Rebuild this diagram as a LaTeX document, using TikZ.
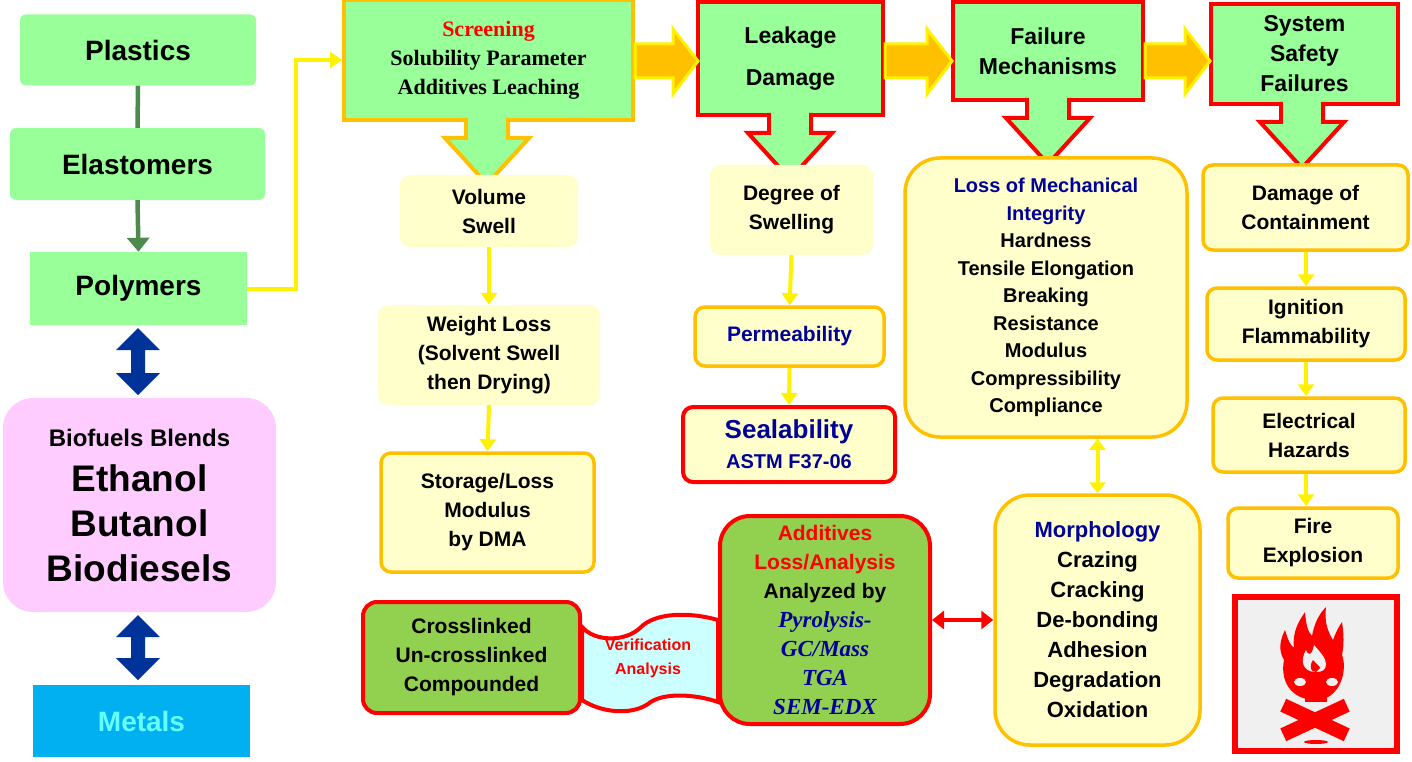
\documentclass[tikz,border=0pt]{standalone}
\usepackage{fontspec}
\setmainfont{Liberation Sans}
\newfontfamily\serifb{Liberation Serif}
\usetikzlibrary{arrows.meta}
\definecolor{lg}{HTML}{99FF99}
\definecolor{ly}{HTML}{FFFFCC}
\definecolor{org}{HTML}{FFC000}
\definecolor{dgr}{HTML}{92D050}
\definecolor{dbl}{HTML}{000099}
\definecolor{pink}{HTML}{FFCCFF}
\definecolor{sky}{HTML}{00B0F0}
\definecolor{mtl}{HTML}{66FFFF}
\definecolor{cy}{HTML}{CCFFFF}
\definecolor{arrg}{HTML}{4E8A4E}
\definecolor{bl}{HTML}{003399}
\tikzset{
 every node/.style={font=\bfseries, align=center, inner sep=0pt},
 gbox/.style={fill=lg, rounded corners=6pt, font=\fontsize{28}{32}\selectfont\bfseries},
 topbox/.style={fill=lg, draw=red, line width=4pt, font=\fontsize{23}{30}\selectfont\bfseries},
 ybox/.style={fill=ly, rounded corners=10pt, font=\fontsize{21}{29}\selectfont\bfseries},
 obox/.style={ybox, draw=org, line width=3.5pt},
 rbox/.style={draw=red, line width=4pt, rounded corners=14pt},
 yarr/.style={draw=yellow, line width=4pt, -{Triangle[length=12pt,width=16pt]}},
 blockarr/.style={fill=org, draw=yellow, line width=3pt},
}
\begin{document}
\begin{tikzpicture}[x=1pt,y=-1pt]
\useasboundingbox (0,0) rectangle (1412,762);
\fill[white] (0,0) rectangle (1412,762);
% left column
\node[gbox, minimum width=236pt, minimum height=71pt] (plastics) at (138,50) {Plastics};
\node[gbox, minimum width=255pt, minimum height=72pt] (elast) at (137.5,164) {Elastomers};
\node[fill=lg, minimum width=217pt, minimum height=73pt, font=\fontsize{28}{32}\selectfont\bfseries] (poly) at (138.5,288.5) {Polymers};
\node[fill=pink, rounded corners=30pt, minimum width=273pt, minimum height=214pt, font=\fontsize{37}{45}\selectfont\bfseries] (bio) at (139.5,505)
 {{\fontsize{24}{30}\selectfont Biofuels Blends}\\Ethanol\\Butanol\\Biodiesels};
\node[fill=sky, minimum width=217pt, minimum height=72pt, text=mtl, font=\fontsize{28}{32}\selectfont\bfseries] (metals) at (141.5,721) {Metals};
\draw[arrg, line width=4.5pt] (plastics.south) -- (elast.north);
\draw[arrg, line width=4.5pt, -{Triangle[length=14pt,width=22pt]}] (elast.south) -- (poly.north);
\foreach \a/\b in {328/395, 615/680}{
 \fill[bl] (131,\a+22) -- (116,\a+22) -- (138,\a) -- (160,\a+22) -- (145,\a+22) -- (145,\b-22) -- (160,\b-22) -- (138,\b) -- (116,\b-22) -- (131,\b-22) -- cycle;}
% top row
\node[fill=lg, draw=org, line width=4pt, minimum width=289pt, minimum height=120pt, font=\serifb\fontsize{22}{29}\selectfont\bfseries] (screen) at (488.5,60)
 {\textcolor{red}{Screening}\\Solubility Parameter\\Additives Leaching};
\node[topbox, minimum width=185pt, minimum height=113pt] (leak) at (790.5,58.5) {Leakage\\[12pt]Damage};
\node[topbox, minimum width=190pt, minimum height=98pt] (fail) at (1048,51) {Failure\\Mechanisms};
\node[topbox, minimum width=187pt, minimum height=100pt] (sys) at (1304.5,54) {System\\Safety\\Failures};
\draw[yarr] (poly.east) -- (296,288.5) |- (screen.west);
\foreach \c/\bt/\col in {487/120/org, 790/115/red, 1048/100/red, 1302/104/red}{
 \filldraw[fill=lg, draw=\col, line width=4pt, line join=miter] (\c-21,\bt-2) -- (\c-21,\bt+18) -- (\c-42,\bt+18) -- (\c,\bt+64) -- (\c+42,\bt+18) -- (\c+21,\bt+18) -- (\c+21,\bt-2);
 \fill[lg] (\c-19,\bt-4) rectangle (\c+19,\bt+19);}
\foreach \xa/\xb in {635/698, 885/952, 1145/1210}{
 \filldraw[blockarr] (\xa,44) -- (\xb-25,44) -- (\xb-25,29) -- (\xb,61) -- (\xb-25,94) -- (\xb-25,78) -- (\xa,78) -- cycle;}
% column 1
\node[ybox, minimum width=178pt, minimum height=72pt] (vol) at (489,211) {Volume\\Swell};
\node[ybox, minimum width=222pt, minimum height=100pt] (wt) at (489,355) {Weight Loss\\(Solvent Swell\\then Drying)};
\node[obox, minimum width=213pt, minimum height=119pt] (stor) at (487.5,512.5) {Storage/Loss\\Modulus\\by DMA};
\draw[yarr] (vol.south) -- (wt.north);
\draw[yarr] (wt.south) -- (stor.north);
% column 2
\node[ybox, minimum width=163pt, minimum height=90pt] (deg) at (791.5,210) {Degree of\\Swelling};
\node[obox, minimum width=189pt, minimum height=59pt, text=dbl] (perm) at (789.5,336.5) {Permeability};
\node[fill=ly, rbox, rounded corners=10pt, minimum width=212pt, minimum height=75pt, text=dbl, font=\fontsize{26}{30}\selectfont\bfseries] (seal) at (789,444.5) {Sealability\\{\fontsize{20}{24}\selectfont ASTM F37-06}};
\draw[yarr] (deg.south) -- (perm.north);
\draw[yarr] (perm.south) -- (seal.north);
% column 3
\node[obox, rounded corners=35pt, minimum width=282pt, minimum height=279pt, font=\fontsize{20}{27.5}\selectfont\bfseries] (mech) at (1046,297.5)
 {\textcolor{dbl}{Loss of Mechanical}\\\textcolor{dbl}{Integrity}\\Hardness\\Tensile Elongation\\Breaking\\Resistance\\Modulus\\Compressibility\\Compliance};
\node[obox, rounded corners=35pt, minimum width=205pt, minimum height=250pt, font=\fontsize{22}{30}\selectfont\bfseries] (morph) at (1097.5,620)
 {\textcolor{dbl}{Morphology}\\Crazing\\Cracking\\De-bonding\\Adhesion\\Degradation\\Oxidation};
\draw[yellow, line width=4pt, {Triangle[length=11pt,width=16pt]}-{Triangle[length=11pt,width=16pt]}] (morph.north |- mech.south) -- (morph.north);
% column 4
\node[obox, minimum width=205pt, minimum height=85pt] (dam) at (1305.5,207.5) {Damage of\\Containment};
\node[obox, minimum width=198pt, minimum height=72pt] (ign) at (1306,324) {Ignition\\Flammability};
\node[obox, minimum width=192pt, minimum height=74pt] (elec) at (1309,435) {Electrical\\Hazards};
\node[obox, minimum width=170pt, minimum height=70pt] (fire) at (1313,543) {Fire\\Explosion};
\draw[yarr] (ign.north |- dam.south) -- (ign.north);
\draw[yarr] (ign.south) -- (ign.south |- elec.north);
\draw[yarr] (ign.south |- elec.south) -- (ign.south |- fire.north);
% icon
\node[fill=white!94!black, draw=red, line width=6pt, minimum width=162pt, minimum height=154pt] (icon) at (1315.5,673.5) {};
\fill[red] (1316,700) .. controls (1290,700) and (1280,680) .. (1284,660)
 .. controls (1278,650) and (1280,640) .. (1285,630) .. controls (1288,640) and (1290,645) .. (1294,648)
 .. controls (1292,630) and (1300,620) .. (1305,612) .. controls (1306,625) and (1308,632) .. (1312,636)
 .. controls (1314,625) and (1318,615) .. (1326,607) .. controls (1324,622) and (1328,632) .. (1333,640)
 .. controls (1336,632) and (1338,628) .. (1342,622) .. controls (1344,635) and (1344,645) .. (1342,655)
 .. controls (1348,670) and (1340,700) .. (1316,700) -- cycle;
\fill[white!94!black] (1316,672) .. controls (1302,672) and (1300,660) .. (1306,650) .. controls (1308,656) and (1312,656) .. (1314,645) .. controls (1320,652) and (1326,658) .. (1326,664) .. controls (1326,670) and (1322,672) .. (1316,672) -- cycle;
\fill[red] (1316,672) .. controls (1310,672) and (1309,666) .. (1313,660) .. controls (1316,664) and (1320,666) .. (1320,668) -- cycle;
\fill[white!94!black] (1300,682) ellipse (6pt and 4pt) (1332,682) ellipse (6pt and 4pt);
\fill[red] (1305,690) rectangle (1327,702);
\fill[red,rotate around={25:(1315,720)}] (1280,713) rectangle (1350,727);
\fill[red,rotate around={-25:(1315,720)}] (1280,713) rectangle (1350,727);
\fill[red] (1316,742) ellipse (12pt and 2pt);
% bottom
\node[fill=dgr, rbox, minimum width=217pt, minimum height=111pt, font=\fontsize{21}{29}\selectfont\bfseries] (cross) at (471.5,657.5) {Crosslinked\\Un-crosslinked\\Compounded};
\node[fill=dgr, rbox, rounded corners=30pt, minimum width=210pt, minimum height=208pt, font=\fontsize{21}{29}\selectfont\bfseries] (add) at (825,620)
 {\textcolor{red}{Additives}\\\textcolor{red}{Loss/Analysis}\\Analyzed by\\{\serifb\bfseries\itshape\color{dbl}\fontsize{23}{29}\selectfont Pyrolysis-}\\{\serifb\bfseries\itshape\color{dbl}\fontsize{23}{29}\selectfont GC/Mass}\\{\serifb\bfseries\itshape\color{dbl}\fontsize{23}{29}\selectfont TGA}\\{\serifb\bfseries\itshape\color{dbl}\fontsize{23}{29}\selectfont SEM-EDX}};
\filldraw[fill=cy, draw=red, line width=4pt] (582,627) .. controls (595,642) and (625,642) .. (640,628) .. controls (655,612) and (690,612) .. (718,620)
 -- (718,702) .. controls (695,694) and (662,692) .. (648,704) .. controls (630,716) and (600,712) .. (582,700) -- cycle;
\node[text=red, font=\fontsize{16}{24}\selectfont\bfseries] (ver) at (648,658) {Verification\\Analysis};
\draw[red, line width=4pt, {Triangle[length=12pt,width=18pt]}-{Triangle[length=12pt,width=18pt]}] (add.east) -- (morph.west |- add.east);
\end{tikzpicture}
\end{document}
